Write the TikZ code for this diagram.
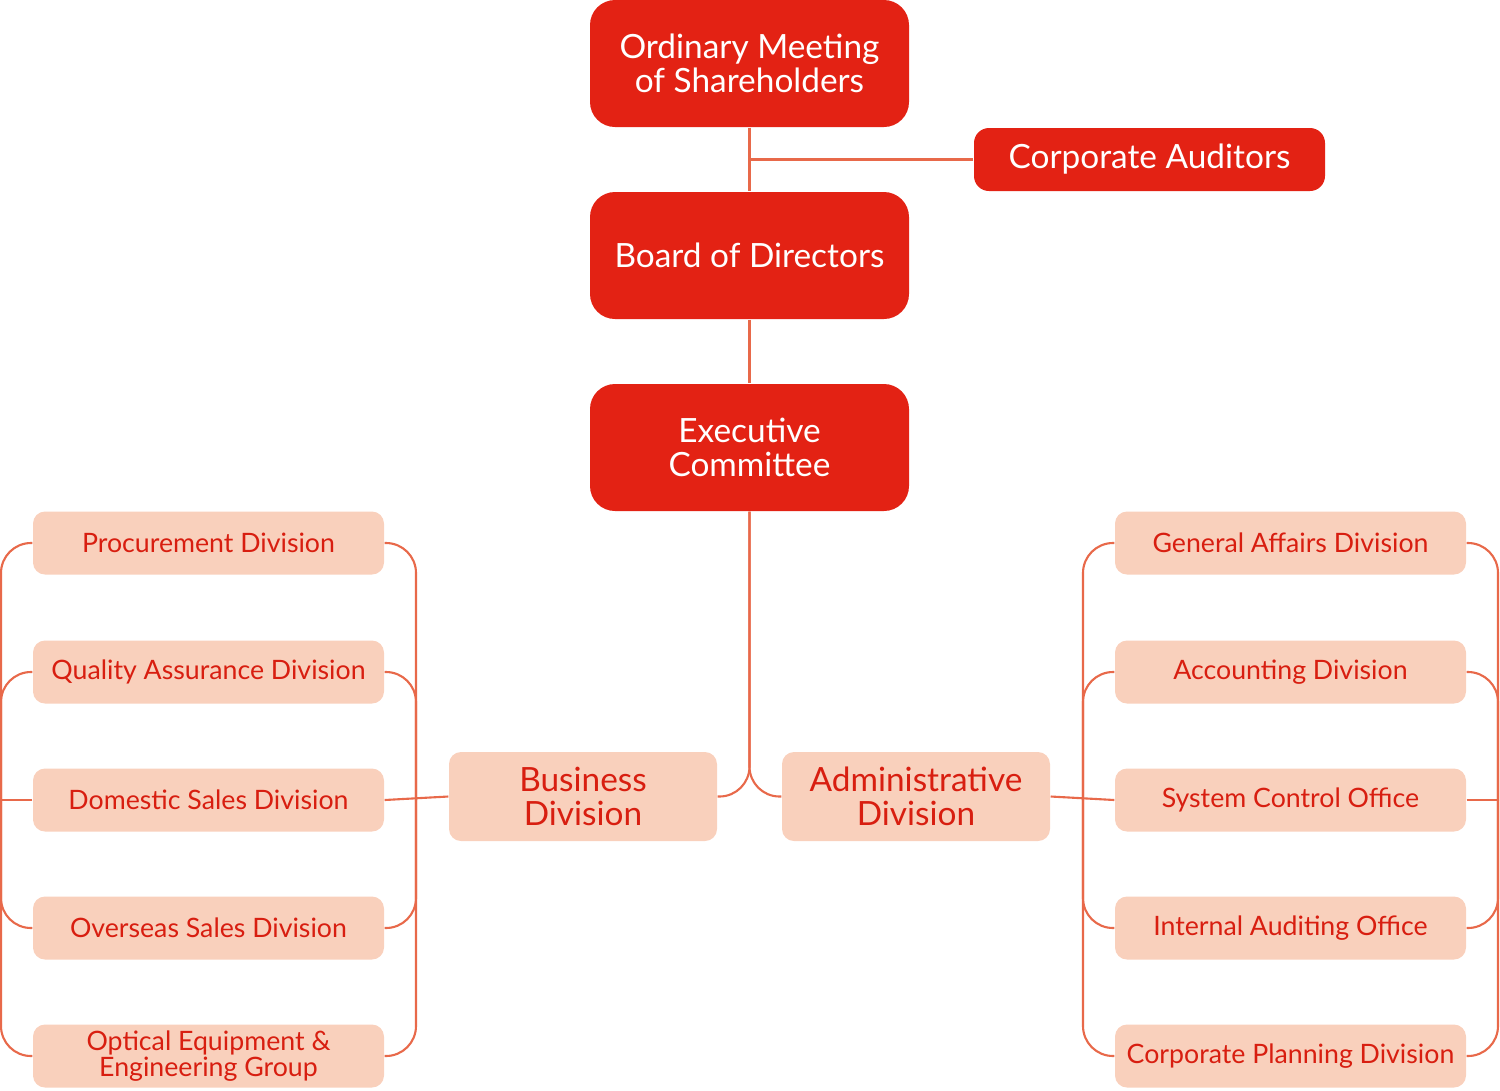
\documentclass[tikz,border=0pt]{standalone}
\usepackage{fontspec}
\setmainfont{Lato}
\usetikzlibrary{positioning}
\definecolor{corpred}{RGB}{227,34,20}
\definecolor{paleorange}{RGB}{249,208,188}
\definecolor{linered}{RGB}{232,105,74}
\definecolor{textred}{RGB}{216,30,16}
\tikzset{
  topbox/.style={fill=corpred,text=white,rounded corners=0.25cm,minimum width=3.19cm,
    minimum height=1.27cm,inner sep=0pt,align=center,font=\fontsize{9.5}{9.5}\selectfont},
  midbox/.style={fill=paleorange,text=textred,rounded corners=0.12cm,minimum width=2.68cm,
    minimum height=0.89cm,inner sep=0pt,align=center,font=\fontsize{9.5}{9.5}\selectfont},
  unitbox/.style={fill=paleorange,text=textred,rounded corners=0.12cm,minimum width=3.51cm,
    minimum height=0.63cm,inner sep=0pt,align=center,font=\fontsize{7.6}{7.6}\selectfont},
  conn/.style={draw=linered,line width=0.6pt,rounded corners=0.3cm}
}
\begin{document}
\begin{tikzpicture}
        % Frame
        \useasboundingbox (0,0) rectangle (15,-10.9);
        % Top of the organisation
        \node[topbox] (meet) at (7.495,-0.635) {Ordinary Meeting\\of Shareholders};
        \node[topbox,minimum width=3.51cm,minimum height=0.63cm,rounded corners=0.15cm] (aud) at (11.495,-1.595) {Corporate Auditors};
        \node[topbox] (board) at (7.495,-2.555) {Board of Directors};
        \node[topbox] (exec) at (7.495,-4.475) {Executive\\Committee};
        % Divisions
        \node[midbox] (bus) at (5.83,-7.965) {Business\\Division};
        \node[midbox] (adm) at (9.16,-7.965) {Administrative\\Division};
        % Left group
        \node[unitbox] (proc) at (2.085,-5.43) {Procurement Division};
        \node[unitbox] (qual) at (2.085,-6.72) {Quality Assurance Division};
        \node[unitbox] (dom) at (2.085,-8.0) {Domestic Sales Division};
        \node[unitbox] (over) at (2.085,-9.28) {Overseas Sales Division};
        \node[unitbox] (opt) at (2.085,-10.56) {Optical Equipment \&\\Engineering Group};
        % Right group
        \node[unitbox] (gen) at (12.905,-5.43) {General Affairs Division};
        \node[unitbox] (acc) at (12.905,-6.72) {Accounting Division};
        \node[unitbox] (sys) at (12.905,-8.0) {System Control Office};
        \node[unitbox] (ina) at (12.905,-9.28) {Internal Auditing Office};
        \node[unitbox] (cpl) at (12.905,-10.56) {Corporate Planning Division};
        % Bus points
        \coordinate (lbusW) at (0.01,-8.0);
        \coordinate (lbusE) at (4.16,-8.0);
        \coordinate (rbusW) at (10.83,-8.0);
        \coordinate (rbusE) at (14.98,-8.0);
        % Connectors
        \draw[conn] (meet.south) -- (board.north);
        \draw[conn] (aud.west) -- (aud.west -| meet.south);
        \draw[conn] (board.south) -- (exec.north);
        \draw[conn] (exec.south) |- (bus.east);
        \draw[conn] (exec.south) |- (adm.west);
        \draw[conn] (bus.west) -- (dom.east);
        \draw[conn] (adm.east) -- (sys.west);
        \draw[conn] (dom.west) -- (lbusW);
        \draw[conn] (sys.east) -- (rbusE);
        \foreach \u in {proc,qual,over,opt}{
          \draw[conn] (\u.west) -| (lbusW);
          \draw[conn] (\u.east) -| (lbusE);
        }
        \foreach \u in {gen,acc,ina,cpl}{
          \draw[conn] (\u.west) -| (rbusW);
          \draw[conn] (\u.east) -| (rbusE);
        }
\end{tikzpicture}
\end{document}
